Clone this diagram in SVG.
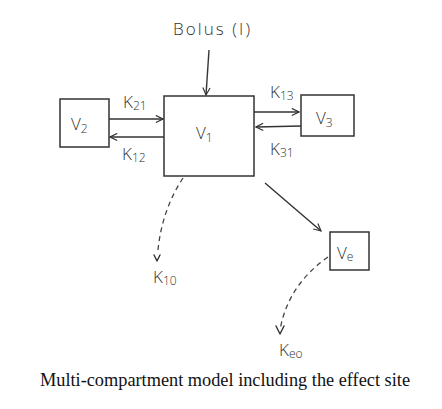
<svg xmlns="http://www.w3.org/2000/svg" width="442" height="409" viewBox="0 0 442 409">
<defs>
<style>
.box{fill:none;stroke:#333;stroke-width:1.5}
.ln{fill:none;stroke:#333;stroke-width:1.4}
.dash{fill:none;stroke:#444;stroke-width:1.3;stroke-dasharray:5 4}
.hd{fill:none;stroke:#333;stroke-width:1.4;stroke-linecap:round;stroke-linejoin:round}
.t{font-family:"Open Sans","DejaVu Sans",sans-serif;font-size:17px;fill:#333;font-weight:300}
.s{font-size:12px}
.cap{font-family:"Liberation Serif",serif;font-size:18.5px;fill:#111}
</style>
<marker id="ah" viewBox="0 0 10 10" refX="9" refY="5" markerWidth="9" markerHeight="9" markerUnits="userSpaceOnUse" orient="auto">
<path d="M1,1 L9,5 L1,9" fill="none" stroke="#333" stroke-width="1.3"/>
</marker>
</defs>
<rect width="442" height="409" fill="#fff"/>
<g id="bolus"><text class="t" x="173" y="35" font-size="18" textLength="77">Bolus (I)</text></g>
<g id="v1"><rect class="box" x="164" y="96" width="90" height="80"/><text class="t" x="196" y="139">V<tspan class="s" dy="3">1</tspan></text></g>
<g id="v2"><rect class="box" x="60" y="99" width="49" height="48"/><text class="t" x="71" y="130">V<tspan class="s" dy="3">2</tspan></text></g>
<g id="v3"><rect class="box" x="301" y="95" width="53" height="41"/><text class="t" x="316" y="124">V<tspan class="s" dy="3">3</tspan></text></g>
<g id="ve"><rect class="box" x="330" y="232" width="39" height="38"/><text class="t" x="337" y="259">V<tspan class="s" dy="2">e</tspan></text></g>
<g id="connectors">
<line class="ln" x1="209" y1="50" x2="206" y2="95" marker-end="url(#ah)"/>
<line class="ln" x1="109" y1="119" x2="163" y2="119" marker-end="url(#ah)"/>
<line class="ln" x1="164" y1="137" x2="110" y2="137" marker-end="url(#ah)"/>
<line class="ln" x1="254" y1="112" x2="299" y2="112" marker-end="url(#ah)"/>
<line class="ln" x1="301" y1="126" x2="256" y2="127" marker-end="url(#ah)"/>
<line class="ln" x1="265" y1="183" x2="321" y2="231" marker-end="url(#ah)"/>
<path class="dash" d="M183,178 Q162,210 158,250"/>
<path class="hd" d="M154,255 L157,261 L160,255"/>
<path class="dash" d="M328,257 Q288,285 280,330"/>
<path class="hd" d="M276,326 L280,334 L284,326"/>
</g>
<g id="labels">
<text class="t" x="123" y="108">K<tspan class="s" dy="2">21</tspan></text>
<text class="t" x="122" y="160">K<tspan class="s" dy="2">12</tspan></text>
<text class="t" x="270" y="98">K<tspan class="s" dy="2">13</tspan></text>
<text class="t" x="270" y="155">K<tspan class="s" dy="2">31</tspan></text>
<text class="t" x="153" y="283">K<tspan class="s" dy="2">10</tspan></text>
<text class="t" x="279" y="356">K<tspan class="s" dy="2">eo</tspan></text>
</g>
<text class="cap" x="225" y="386" text-anchor="middle" textLength="370" lengthAdjust="spacingAndGlyphs">Multi-compartment model including the effect site</text>
</svg>
